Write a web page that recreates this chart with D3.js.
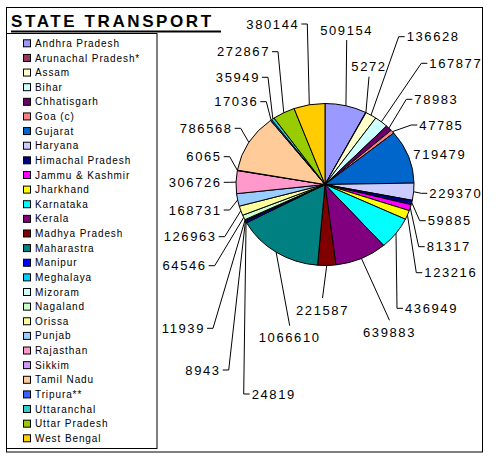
<!DOCTYPE html>
<html><head><meta charset="utf-8">
<script src="https://cdn.jsdelivr.net/npm/d3@7"></script>
<style>body{margin:0;background:#fff}svg{display:block}</style>
</head><body>
<script>
const title = "STATE TRANSPORT";
const states = ["Andhra Pradesh","Arunachal Pradesh*","Assam","Bihar","Chhatisgarh","Goa (c)","Gujarat","Haryana","Himachal Pradesh","Jammu & Kashmir","Jharkhand","Karnataka","Kerala","Madhya Pradesh","Maharastra","Manipur","Meghalaya","Mizoram","Nagaland","Orissa","Punjab","Rajasthan","Sikkim","Tamil Nadu","Tripura**","Uttaranchal","Uttar Pradesh","West Bengal"];
const values = [509154,5272,136628,167877,78983,47785,719479,229370,59885,81317,123216,436949,639883,221587,1066610,24819,8943,11939,64546,126963,168731,306726,6065,786568,17036,35949,272867,380144];
const colors = ["#9999FF","#993366","#FFFFCC","#CCFFFF","#660066","#FF8080","#0066CC","#CCCCFF","#000080","#FF00FF","#FFFF00","#00FFFF","#800080","#800000","#008080","#0000FF","#00CCFF","#CCFFFF","#CCFFCC","#FFFF99","#99CCFF","#FF99CC","#CC99FF","#FFCC99","#3366FF","#33CCCC","#99CC00","#FFCC00"];

// label layout (annotation placement): x, y(center), side of leader attachment
const labelLayout = [
 [346.7,30,'b'],[369,66.7,'b'],[406.7,36.7,'l'],[429.3,63.3,'l'],[414.3,99.3,'l'],[419.3,125,'l'],
 [413.3,154,'n'],[429.3,193.3,'l'],[427.7,220.7,'l'],[426.7,246.7,'l'],[424.3,272.7,'l'],[405,308.3,'l'],
 [389.5,332.3,'t'],[322.5,310,'t'],[289.7,337.7,'t'],[251.7,394,'l'],[220.7,370,'r'],[205,328.3,'r'],
 [206.7,265.7,'r'],[216.7,236.7,'r'],[221.7,210,'r'],[221.7,182.3,'r'],[221.7,156.7,'r'],[232.7,128.3,'r'],
 [258.3,101.7,'r'],[260,77.3,'r'],[270,51.7,'r'],[299.3,24,'r']
];

const W=500,H=460;
const svg=d3.select("body").append("svg").attr("width",W).attr("height",H);

// outer frame
svg.append("rect").attr("x",6.5).attr("y",7.5).attr("width",476).attr("height",444.5)
  .attr("fill","none").attr("stroke","#000");

// title
svg.append("text").attr("x",11).attr("y",27).text(title)
  .attr("font-family","Liberation Sans, Arial, sans-serif").attr("font-weight","bold")
  .attr("font-size",17).attr("letter-spacing",2.6).attr("fill","#000");
svg.append("rect").attr("x",11).attr("y",30.5).attr("width",210).attr("height",2).attr("fill","#000");

// legend
svg.append("rect").attr("x",6.5).attr("y",33.5).attr("width",150.5).attr("height",415)
  .attr("fill","#fff").attr("stroke","#000");
const ly = d3.scalePoint().domain(d3.range(states.length)).range([43.3,438.3]);
const lg = svg.append("g");
states.forEach((s,i)=>{
  const y=ly(i);
  lg.append("rect").attr("x",23.5).attr("y",y-3.5).attr("width",7).attr("height",7)
    .attr("fill",colors[i]).attr("stroke","#000");
  lg.append("text").attr("x",35).attr("y",y).attr("dy","0.36em").text(s)
    .attr("font-family","Liberation Sans, Arial, sans-serif").attr("font-size",10)
    .attr("letter-spacing",0.9).attr("fill","#000");
});

// pie
const cx=325, cy=184.5, ry=81, rx=89;
const pie=d3.pie().sort(null).value(d=>d)(values);
const arc=d3.arc().innerRadius(0).outerRadius(ry);
const pg=svg.append("g").attr("transform",`translate(${cx},${cy}) scale(${rx/ry},1)`);
pg.selectAll("path").data(pie).join("path")
  .attr("d",arc).attr("fill",(d,i)=>colors[i])
  .attr("stroke","#000").attr("stroke-width",1).attr("vector-effect","non-scaling-stroke");

// labels with leaders
const labG=svg.append("g");
pie.forEach((d,i)=>{
  const [x,y,side]=labelLayout[i];
  const a=(d.startAngle+d.endAngle)/2;
  const ex=cx+rx*Math.sin(a), ey=cy-ry*Math.cos(a);
  const anchor = side==='r'?'end':(side==='l'||side==='n'?'start':'middle');
  labG.append("text").attr("x",x).attr("y",y).attr("dy","0.35em")
    .attr("text-anchor",anchor).text(String(values[i]))
    .attr("font-family","Liberation Sans, Arial, sans-serif").attr("font-size",13)
    .attr("letter-spacing",1.6).attr("fill","#000");
  let pts=null;
  if(side==='r') pts=[[x+2,y],[x+8,y],[ex,ey]];
  else if(side==='l') pts=[[x-2,y],[x-8,y],[ex,ey]];
  else if(side==='t') pts=[[x,y-12],[ex,ey]];
  else if(side==='b') pts=[[x,y+10],[ex,ey]];
  if(pts) labG.append("path").attr("d",d3.line()(pts)).attr("fill","none")
    .attr("stroke","#000").attr("stroke-width",1);
});
</script>
</body></html>
